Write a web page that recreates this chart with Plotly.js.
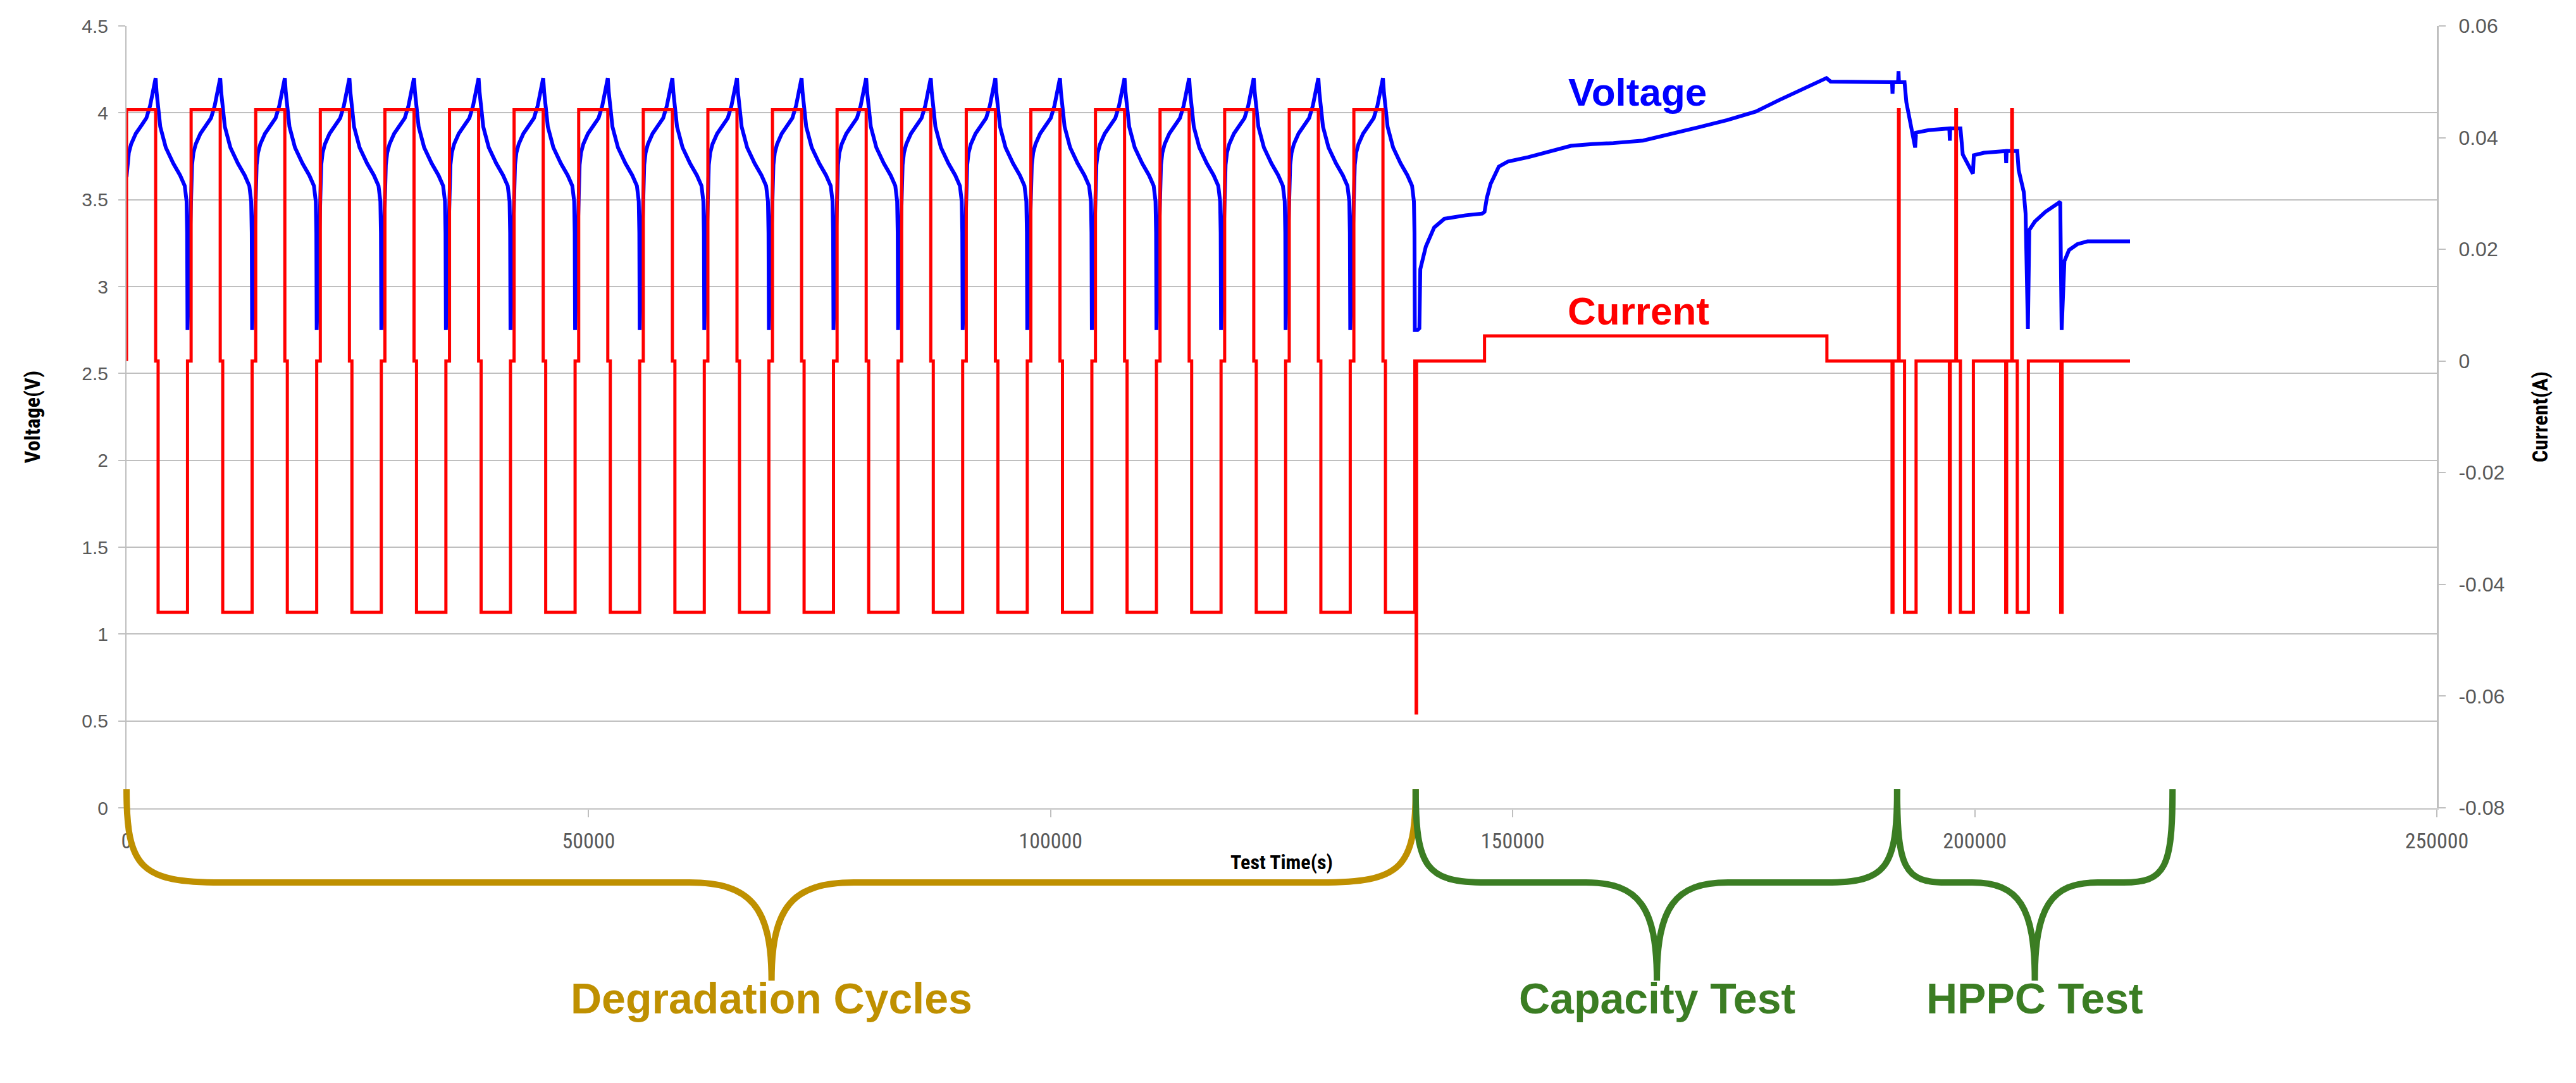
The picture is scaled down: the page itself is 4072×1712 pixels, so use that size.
<!DOCTYPE html>
<html>
<head>
<meta charset="utf-8">
<script src="https://cdn.plot.ly/plotly-3.0.1.min.js"></script>
<style>
html,body{margin:0;padding:0;background:#ffffff;}
#chart{width:4072px;height:1712px;}
</style>
</head>
<body>
<div id="chart"></div>
<script>
// ---------------- DATA ----------------
// Start time (s) of each of the 20 degradation cycles
const cycleStarts = [0, 6990, 13980, 20970, 27960, 34950, 41940, 48930, 55920, 62910,
                     69900, 76890, 83880, 90870, 97860, 104850, 111840, 118830, 125820, 132810];

// Voltage inside one degradation cycle (time relative to cycle start, s / V)
const cycleVoltT = [0, 100, 250, 500, 1000, 1650, 2150, 2550, 2900, 3150, 3250, 3420, 3650, 4250, 5050, 5800, 6300, 6500, 6560, 6600];
const cycleVoltV = [3.63, 3.70, 3.77, 3.82, 3.88, 3.93, 3.97, 4.04, 4.12, 4.20, 4.12, 4.05, 3.92, 3.80, 3.71, 3.64, 3.58, 3.49, 3.31, 2.75];

// Current steps inside one degradation cycle (relative s / A)
const cycleCurrT = [0, 3150, 3420, 6600];
const cycleCurrA = [0.045, 0, -0.045, 0];

// Capacity test voltage (s / V)
const capVoltT = [139700, 139900, 140000, 140600, 141500, 142600, 144900, 146700, 146950, 147200, 147600, 148500,
                  149500, 151700, 154000, 156300, 158600, 160900, 164100, 167100, 170200, 173200, 176300, 178700,
                  181800, 183950, 184400, 187300, 191050];
const capVoltV = [2.75, 2.76, 3.10, 3.23, 3.34, 3.39, 3.41, 3.42, 3.43, 3.51, 3.59, 3.69,
                  3.72, 3.745, 3.78, 3.81, 3.82, 3.826, 3.84, 3.877, 3.918, 3.958, 4.007, 4.07,
                  4.145, 4.20, 4.18, 4.178, 4.176];

// Capacity test current steps (s / A)
const capCurrT = [139550, 139600, 146950, 184000];
const capCurrA = [-0.063, 0, 0.0045, 0];

// HPPC test voltage (s / V)
const hppcVoltT = [191100, 191150, 191700, 191750, 191800, 192400, 192600, 193550, 193650, 195000,
                   197250, 197300, 197350, 198450, 198700, 199800, 199900, 201000,
                   203350, 203400, 203450, 204600, 204750, 205300, 205500, 205750,
                   205900, 206500, 207650, 209250, 209400, 209700, 210200, 211100, 212200, 216800];
const hppcVoltV = [4.11, 4.176, 4.176, 4.24, 4.176, 4.176, 4.06, 3.80, 3.886, 3.90,
                   3.91, 3.84, 3.91, 3.91, 3.76, 3.65, 3.756, 3.77,
                   3.78, 3.71, 3.78, 3.78, 3.67, 3.545, 3.42, 2.756,
                   3.325, 3.374, 3.43, 3.488, 2.75, 3.146, 3.21, 3.244, 3.26, 3.26];

// HPPC test current steps (s / A)
const hppcCurrT = [191050, 191150, 191750, 191820, 192400, 193650,
                   197250, 197350, 197950, 198020, 198450, 199850,
                   203350, 203450, 204000, 204070, 204600, 205800,
                   209300, 209450, 216800];
const hppcCurrA = [-0.045, 0, 0.045, 0, -0.045, 0,
                   -0.045, 0, 0.045, 0, -0.045, 0,
                   -0.045, 0, 0.045, 0, -0.045, 0,
                   -0.045, 0, 0];

// Tick labels
const xTickVals = [0, 50000, 100000, 150000, 200000, 250000];
const xTickText = ['0', '50000', '100000', '150000', '200000', '250000'];
const vTickVals = [0, 0.5, 1, 1.5, 2, 2.5, 3, 3.5, 4, 4.5];
const vTickText = ['0', '0.5', '1', '1.5', '2', '2.5', '3', '3.5', '4', '4.5'];
const iTickVals = [0.06, 0.04, 0.02, 0, -0.02, -0.04, -0.06, -0.08];
const iTickText = ['0.06', '0.04', '0.02', '0', '-0.02', '-0.04', '-0.06', '-0.08'];

// Test phases (start, end, label position) in s
const phaseNames = ['Degradation Cycles', 'Capacity Test', 'HPPC Test'];
const phaseStart = [0, 139500, 191600];
const phaseEnd   = [139500, 191600, 221400];
const phaseMid   = [69800, 165600, 206500];

// ---------------- BUILD SERIES ----------------
const timeV = [], volt = [];
cycleStarts.forEach(function (s) {
  cycleVoltT.forEach(function (t, i) { timeV.push(s + t); volt.push(cycleVoltV[i]); });
});
capVoltT.forEach(function (t, i) { timeV.push(t); volt.push(capVoltV[i]); });
hppcVoltT.forEach(function (t, i) { timeV.push(t); volt.push(hppcVoltV[i]); });

const timeI = [0], curr = [0];
cycleStarts.forEach(function (s) {
  cycleCurrT.forEach(function (t, i) { timeI.push(s + t); curr.push(cycleCurrA[i]); });
});
capCurrT.forEach(function (t, i) { timeI.push(t); curr.push(capCurrA[i]); });
hppcCurrT.forEach(function (t, i) { timeI.push(t); curr.push(hppcCurrA[i]); });

// ---------------- STYLE ----------------
const XMAX = 250000;
const GOLD = '#BF9000';
const GREEN = '#3B7D23';
const phaseColor = [GOLD, GREEN, GREEN];
const phaseEndR = [10300, 7700, 5300];
const phaseMidR = [8900, 7700, 6800];
const yTop = 0.024, yBar = -0.0955, yTip = -0.221, yLabel = -0.2435;
const NARROW = '"Liberation Sans Narrow", "Arial Narrow", "Roboto Condensed", "Liberation Sans", Arial, sans-serif';
const SANS = '"Liberation Sans", Arial, sans-serif';

function px(t) { return t / XMAX; }
function bracePath(i) {
  const xL = px(phaseStart[i]), xR = px(phaseEnd[i]), xM = px(phaseMid[i]);
  const rE = px(phaseEndR[i]), rM = px(phaseMidR[i]);
  const d1 = yTop + 0.85 * (yBar - yTop);
  const d2 = yBar + 0.25 * (yTip - yBar);
  return 'M ' + xL + ',' + yTop +
    ' C ' + xL + ',' + d1 + ' ' + (xL + 0.15 * rE) + ',' + yBar + ' ' + (xL + rE) + ',' + yBar +
    ' L ' + (xM - rM) + ',' + yBar +
    ' C ' + (xM - 0.25 * rM) + ',' + yBar + ' ' + xM + ',' + d2 + ' ' + xM + ',' + yTip +
    ' C ' + xM + ',' + d2 + ' ' + (xM + 0.25 * rM) + ',' + yBar + ' ' + (xM + rM) + ',' + yBar +
    ' L ' + (xR - rE) + ',' + yBar +
    ' C ' + (xR - 0.15 * rE) + ',' + yBar + ' ' + xR + ',' + d1 + ' ' + xR + ',' + yTop;
}

const shapes = phaseNames.map(function (n, i) {
  return { type: 'path', xref: 'paper', yref: 'paper', path: bracePath(i),
           line: { color: phaseColor[i], width: 10 }, layer: 'above' };
});

const annotations = phaseNames.map(function (n, i) {
  return { xref: 'x', yref: 'paper', x: phaseMid[i], y: yLabel, text: n, showarrow: false,
           xanchor: 'center', yanchor: 'middle',
           font: { family: SANS, size: 68, color: phaseColor[i], weight: 'bold' } };
});
annotations.push({ xref: 'x', yref: 'y', x: 163500, y: 4.12, text: 'Voltage', showarrow: false,
  xanchor: 'center', yanchor: 'middle', font: { family: SANS, size: 62, color: '#0000FF', weight: 'bold' } });
annotations.push({ xref: 'x', yref: 'y', x: 163600, y: 2.86, text: 'Current', showarrow: false,
  xanchor: 'center', yanchor: 'middle', font: { family: SANS, size: 62, color: '#FF0000', weight: 'bold' } });

const traces = [
  { x: timeI, y: curr, yaxis: 'y2', type: 'scatter', mode: 'lines', name: 'Current',
    line: { color: '#FF0000', width: 5, shape: 'hv' }, showlegend: false },
  { x: timeV, y: volt, yaxis: 'y', type: 'scatter', mode: 'lines', name: 'Voltage',
    line: { color: '#0000FF', width: 6 }, showlegend: false }
];

const layout = {
  width: 4072, height: 1712,
  margin: { l: 200, r: 220, t: 41, b: 435, pad: 0 },
  paper_bgcolor: '#ffffff', plot_bgcolor: '#ffffff',
  showlegend: false,
  xaxis: {
    range: [0, XMAX], tickvals: xTickVals, ticktext: xTickText,
    ticks: 'outside', ticklen: 12, tickwidth: 2, tickcolor: '#bfbfbf',
    showgrid: false, zeroline: false, showline: true, linecolor: '#d0d0d0', linewidth: 3,
    tickfont: { family: NARROW, size: 34, color: '#595959' },
    ticklabelstandoff: 8,
    title: { text: 'Test Time(s)', standoff: 4,
             font: { family: NARROW, size: 32, color: '#000000', weight: 'bold' } }
  },
  yaxis: {
    range: [0, 4.5], tickvals: vTickVals, ticktext: vTickText,
    ticks: 'outside', ticklen: 11, tickwidth: 2, tickcolor: '#bfbfbf',
    showgrid: true, gridcolor: '#bfbfbf', gridwidth: 2,
    zeroline: false, showline: true, linecolor: '#bfbfbf', linewidth: 2,
    tickfont: { family: SANS, size: 30, color: '#595959' },
    ticklabelstandoff: 10,
    title: { text: 'Voltage(V)', standoff: 55,
             font: { family: NARROW, size: 34, color: '#000000', weight: 'bold' } }
  },
  yaxis2: {
    overlaying: 'y', side: 'right', anchor: 'x',
    range: [-0.08, 0.06], tickvals: iTickVals, ticktext: iTickText,
    ticks: 'outside', ticklen: 11, tickwidth: 2, tickcolor: '#bfbfbf',
    showgrid: false, zeroline: false, showline: true, linecolor: '#bfbfbf', linewidth: 3,
    tickfont: { family: SANS, size: 32, color: '#595959' },
    ticklabelstandoff: 14,
    title: { text: 'Current(A)', standoff: 45,
             font: { family: NARROW, size: 34, color: '#000000', weight: 'bold' } }
  },
  shapes: shapes,
  annotations: annotations
};

Plotly.newPlot('chart', traces, layout, { staticPlot: true, displayModeBar: false });
</script>
</body>
</html>
